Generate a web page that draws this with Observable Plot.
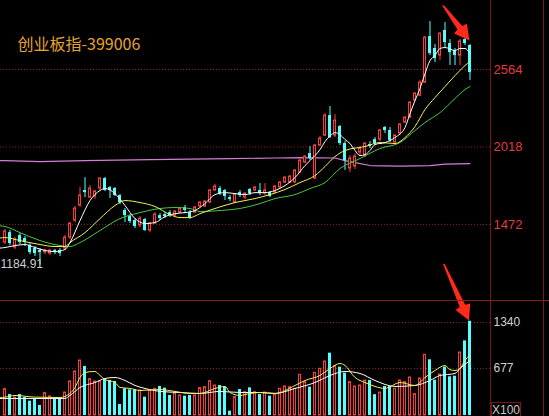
<!DOCTYPE html>
<html><head><meta charset="utf-8">
<script src="https://cdn.jsdelivr.net/npm/d3@7"></script>
<script src="https://cdn.jsdelivr.net/npm/@observablehq/plot@0.6"></script>
<style>
html,body{margin:0;padding:0;background:#000;}
#wrap{position:relative;width:549px;height:416px;overflow:hidden;background:#000;}
#wrap svg{display:block;}
.vline{position:absolute;top:0;width:1px;height:416px;background:#7a1616;}
.hline{position:absolute;left:0;top:300px;width:549px;height:1px;background:#8a1a1a;}
#x100{position:absolute;left:491px;top:402px;width:28px;height:14px;border:1px solid #7a1616;border-bottom:none;color:#c8c8c8;font:12px "Liberation Sans",Arial,sans-serif;line-height:15px;text-align:center;}
</style></head>
<body><div id="wrap"></div>
<script>
const title = "创业板指-399006";
const priceTicks = [1472, 2018, 2564];
const volumeTicks = [677, 1340];
const volumeUnit = "X100";
const lowLabel = [1184.91];

const open = [1344,1414,1309,1393,1372,1323,1302,1288,1273,1266,
1288,1288,1302,1379,1499,1605,1711,1661,1668,1725,
1795,1732,1725,1675,1570,1527,1499,1464,1506,1429,
1478,1534,1541,1555,1534,1555,1591,1555,1555,1598,
1598,1626,1711,1725,1711,1661,1626,1696,1661,1718,
1711,1711,1689,1696,1696,1732,1767,1767,1767,1837,
1908,1971,1795,2028,2098,2239,2098,2162,2042,1866,
1880,1978,1957,2035,2070,2070,2155,2134,2049,2112,
2190,2225,2345,2380,2472,2796,2712,2662,2839,2747,
2698,2662,2775,2733];
const close = [1422,1337,1365,1344,1344,1273,1266,1273,1288,1288,
1273,1266,1379,1478,1584,1675,1696,1725,1704,1795,
1711,1711,1675,1626,1534,1492,1457,1513,1429,1478,
1541,1513,1527,1534,1562,1584,1570,1520,1591,1626,
1633,1711,1739,1689,1668,1647,1682,1675,1689,1689,
1732,1689,1711,1668,1739,1767,1802,1809,1852,1922,
1950,1936,2028,2077,2239,2084,2204,2042,1922,1936,
1950,2007,2042,2021,2042,2134,2134,2063,2098,2176,
2225,2331,2394,2472,2789,2676,2641,2817,2754,2683,
2662,2761,2747,2542];
const high = [1436,1429,1379,1407,1386,1337,1316,1302,1295,1295,
1295,1302,1393,1485,1598,1732,1802,1746,1711,1802,
1802,1739,1732,1682,1584,1541,1513,1527,1513,1485,
1555,1548,1555,1570,1570,1591,1605,1570,1598,1633,
1640,1718,1753,1739,1718,1675,1689,1711,1696,1725,
1739,1760,1760,1704,1746,1774,1809,1816,1859,1929,
1957,2021,2035,2091,2253,2303,2246,2169,2056,1957,
1971,2021,2049,2056,2084,2141,2162,2155,2105,2183,
2232,2338,2401,2486,2796,2902,2740,2824,2895,2775,
2712,2775,2782,2740];
const low = [1330,1323,1295,1330,1316,1259,1245,1184.91,1259,1252,
1259,1245,1288,1365,1485,1591,1661,1654,1647,1711,
1704,1654,1668,1612,1485,1478,1443,1450,1422,1414,
1471,1499,1513,1520,1527,1548,1548,1506,1548,1591,
1591,1619,1704,1675,1640,1633,1619,1661,1647,1675,
1704,1675,1675,1661,1689,1725,1760,1760,1760,1830,
1901,1922,1788,2021,2091,2077,2084,2028,1852,1837,
1859,1957,1943,2007,2028,2056,2112,2049,2042,2105,
2183,2218,2338,2373,2465,2662,2613,2627,2719,2592,
2592,2592,2733,2486];
const volume = [379,302,259,302,259,206,235,144,322,274,
235,235,331,490,634,792,706,523,490,490,
528,504,490,158,384,369,369,360,264,360,
384,418,394,288,322,288,278,288,288,394,
408,494,432,432,408,62,264,374,336,398,
336,302,331,278,302,384,418,408,384,586,
480,408,614,672,778,898,710,696,610,480,
418,432,504,504,300,330,418,418,384,504,
480,547,307,533,874,802,509,590,696,557,
566,907,1075,1358];

// moving averages (candle index, value); index -1 = value at the left edge
const ma5Index = [-1,0,2,4,6,8,10,12,13,15,17,19,20,22,24,26,28,30,32,34,36,38,40,42,44,46,48,50,52,54,56,58,60,62,63,64,65,66,67,68,69,70,71,72,73,74,76,78,80,81,82,83,84,85,86,87,88,90,91,92,93];
const ma5Value = [1305,1309,1323,1330,1309,1288,1280,1295,1344,1499,1640,1711,1725,1689,1605,1513,1478,1485,1527,1548,1555,1570,1619,1682,1696,1689,1682,1696,1696,1711,1746,1802,1887,1957,1999,2056,2095,2119,2105,2070,2042,1993,1957,1964,1993,2035,2049,2084,2155,2253,2345,2430,2535,2627,2662,2712,2719,2698,2712,2712,2676];
const ma10Index = [-1,0,3,7,10,12,13,16,19,22,24,27,30,33,35,37,39,42,46,50,53,56,59,62,64,66,68,72,75,78,80,82,84,86,88,90,92,93];
const ma10Value = [1376,1379,1358,1330,1316,1316,1344,1414,1513,1605,1640,1626,1598,1541,1520,1520,1548,1584,1626,1654,1682,1718,1767,1816,1880,1950,1993,2021,2049,2042,2084,2162,2282,2366,2444,2521,2592,2620];
const ma20Index = [-1,0,3,7,11,13,15,19,23,27,31,34,37,39,43,47,51,54,58,61,64,67,71,75,79,82,84,87,90,92,93];
const ma20Value = [1462,1457,1414,1358,1323,1316,1344,1429,1513,1555,1584,1591,1584,1562,1570,1584,1619,1654,1682,1725,1767,1866,1936,2007,2049,2134,2190,2260,2359,2423,2444];
const ma250Index = [-1,0,7,16,29,45,54,59,66,68,70,73,79,85,88,93];
const ma250Value = [1922,1922,1915,1922,1929,1936,1940,1943,1940,1922,1908,1887,1883,1887,1897,1901];
const vma5Index = [-1,0,2,6,11,13,14,15,16,18,19,20,22,23,25,27,31,34,37,39,42,44,45,47,49,51,54,58,60,63,65,67,68,70,72,74,76,79,82,84,86,88,89,90,91,92,93];
const vma5Value = [255,264,288,264,259,317,403,547,619,634,576,518,475,403,389,360,374,346,317,317,389,418,331,288,317,331,317,432,504,576,677,749,720,547,475,418,389,475,432,547,648,720,660,648,677,792,878];
const vma10Index = [-1,0,4,12,13,15,18,20,22,24,26,28,31,35,39,43,47,51,54,58,62,65,68,71,74,78,82,85,87,90,91,93];
const vma10Value = [245,245,245,245,288,403,475,533,547,504,432,389,346,331,317,346,331,331,317,389,475,576,634,605,504,418,432,504,576,605,677,792];

// annotation arrows: candle index and value of the tip
const priceArrow = [{i: 92.9, v: 2768}];
const volumeArrow = [{i: 92.8, v: 1369}];

const UP = "#ff3c3c", DOWN = "#54ffff";
const candles = open.map((o, i) => ({i, open: o, close: close[i], high: high[i], low: low[i], vol: volume[i], up: close[i] >= o}));
const upC = candles.filter(d => d.up), dnC = candles.filter(d => !d.up);
const pairs = (ix, vals) => ix.map((i, k) => ({i, v: vals[k]}));

const arrowShape = {
  draw(ctx, l) {
    const head = 16, hw = 8, s1 = 3, s0 = 0.8;
    ctx.moveTo(-s0, 0);
    ctx.lineTo(-s1, -l + head);
    ctx.lineTo(-hw, -l + head - 1);
    ctx.lineTo(0, -l);
    ctx.lineTo(hw, -l + head - 1);
    ctx.lineTo(s1, -l + head);
    ctx.lineTo(s0, 0);
    ctx.closePath();
  }
};

const xOpt = {domain: [-0.9, 97.1], axis: null};
const numFont = "Liberation Sans, Arial, sans-serif";
const lineOpt = (stroke) => ({x: "i", y: "v", stroke, strokeWidth: 1, curve: "monotone-x", clip: true});

const pricePlot = Plot.plot({
  width: 549, height: 300,
  marginLeft: 0, marginRight: 59, marginTop: 0, marginBottom: 0,
  style: {background: "#000", overflow: "visible"},
  x: xOpt,
  y: {domain: [935.45, 3050.45], axis: null},
  marks: [
    Plot.ruleY(priceTicks, {stroke: "#961f1f", strokeDasharray: "1,2"}),
    Plot.line(pairs(ma250Index, ma250Value), {x: "i", y: "v", stroke: "#d27ed2", strokeWidth: 1.2, clip: true}),
    Plot.ruleX(upC, {x: "i", y1: "low", y2: "high", stroke: UP}),
    Plot.ruleX(dnC, {x: "i", y1: "low", y2: "high", stroke: DOWN}),
    Plot.rect(dnC, {x1: d => d.i - 0.5, x2: d => d.i + 0.5, y1: "open", y2: "close", fill: DOWN, insetLeft: 1, insetRight: 1}),
    Plot.rect(upC, {x1: d => d.i - 0.5, x2: d => d.i + 0.5, y1: "open", y2: "close", fill: "#000", stroke: UP, insetLeft: 1.5, insetRight: 1.5}),
    Plot.line(pairs(ma20Index, ma20Value), lineOpt("#44c844")),
    Plot.line(pairs(ma10Index, ma10Value), lineOpt("#f2f25a")),
    Plot.line(pairs(ma5Index, ma5Value), lineOpt("#ffffff")),
    Plot.text(priceTicks, {y: d => d, text: d => String(d), frameAnchor: "right", textAnchor: "start", dx: 3, fill: "#e03c3c", fontSize: 13, fontFamily: numFont}),
    Plot.text(lowLabel, {y: d => d, text: d => d.toFixed(2), frameAnchor: "left", textAnchor: "start", dy: -1, fill: "#cfcfcf", fontSize: 12, fontFamily: numFont}),
    Plot.text([title], {frameAnchor: "top-left", dx: 17, dy: 38, textAnchor: "start", fill: "#e6a32e", fontSize: 16, fontFamily: "Noto Sans CJK SC, sans-serif"}),
    Plot.vector(priceArrow, {x: "i", y: "v", length: 44, rotate: 143, anchor: "end", shape: arrowShape, fill: "#ff2a1a", stroke: "none"})
  ]
});

const volPlot = Plot.plot({
  width: 549, height: 116,
  marginLeft: 0, marginRight: 59, marginTop: 0, marginBottom: 0,
  style: {background: "none", overflow: "visible"},
  x: xOpt,
  y: {domain: [-15.1, 1657], axis: null},
  marks: [
    Plot.ruleY(volumeTicks, {stroke: "#961f1f", strokeDasharray: "1,2"}),
    Plot.rect(dnC, {x1: d => d.i - 0.5, x2: d => d.i + 0.5, y1: 0, y2: "vol", fill: DOWN, insetLeft: 1, insetRight: 1}),
    Plot.rect(upC, {x1: d => d.i - 0.5, x2: d => d.i + 0.5, y1: 0, y2: "vol", fill: "#000", stroke: UP, insetLeft: 1.5, insetRight: 1.5}),
    Plot.line(pairs(vma10Index, vma10Value), lineOpt("#ffffff")),
    Plot.line(pairs(vma5Index, vma5Value), lineOpt("#f2f25a")),
    Plot.text(volumeTicks, {y: d => d, text: d => String(d), frameAnchor: "right", textAnchor: "start", dx: 3, fill: "#d2d2d2", fontSize: 12, fontFamily: numFont}),
    Plot.vector(volumeArrow, {x: "i", y: "v", length: 62, rotate: 156, anchor: "end", shape: arrowShape, fill: "#ff2a1a", stroke: "none"})
  ]
});

const wrap = document.getElementById("wrap");
wrap.appendChild(pricePlot);
wrap.appendChild(volPlot);
for (const x of [490, 543]) {
  const v = document.createElement("div"); v.className = "vline"; v.style.left = x + "px"; wrap.appendChild(v);
}
const h = document.createElement("div"); h.className = "hline"; wrap.appendChild(h);
const u = document.createElement("div"); u.id = "x100"; u.textContent = volumeUnit; wrap.appendChild(u);
</script>
</body></html>
